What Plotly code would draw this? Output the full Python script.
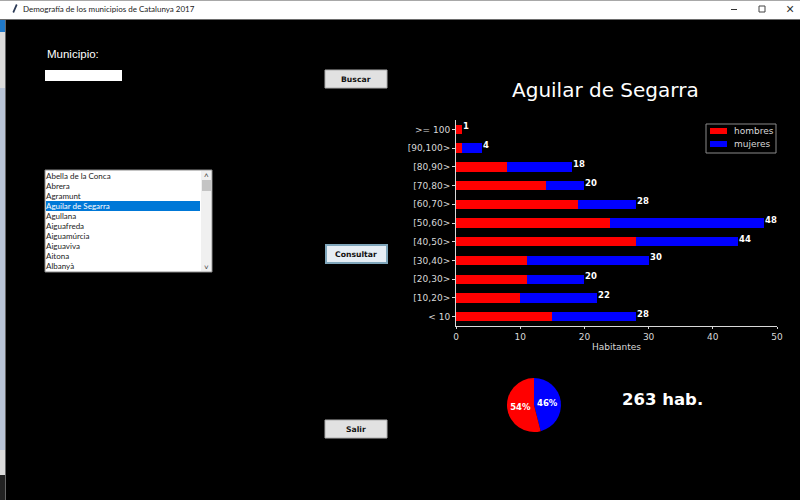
import plotly.graph_objects as go

# edades de abajo arriba, como en el eje del original
rangos = ['< 10', '[10,20>', '[20,30>', '[30,40>', '[40,50>', '[50,60>',
          '[60,70>', '[70,80>', '[80,90>', '[90,100>', '>= 100']
hombres = [15, 10, 11, 11, 28, 24, 19, 14, 8, 1, 1]
mujeres = [13, 12, 9, 19, 16, 24, 9, 6, 10, 3, 0]
totales = [28, 22, 20, 30, 44, 48, 28, 20, 18, 4, 1]

municipios = ['Abella de la Conca', 'Abrera', 'Agramunt', 'Aguilar de Segarra', 'Agullana',
              'Aiguafreda', 'Aiguamúrcia', 'Aiguaviva', 'Aitona', 'Albanyà']
seleccionado = 'Aguilar de Segarra'
botones = ['Buscar', 'Consultar', 'Salir']
pie_labels = ['mujeres', 'hombres']
pie_values = [121, 142]

W, H = 800, 500
CHART_FONT = 'DejaVu Sans'
UI_FONT = 'Liberation Sans'
LIST_FONT = 'Lato'


def rect(x0, y0, x1, y1, fill, line=None, width=1, layer='below'):
    # coordenadas en pixeles de la ventana, y hacia abajo
    return dict(type='rect', xref='paper', yref='paper', x0=x0 / W, x1=x1 / W,
                y0=1 - y0 / H, y1=1 - y1 / H, fillcolor=fill, layer=layer,
                line=dict(color=line if line else fill, width=width if line else 0))


def label(x, y, text, size, color='#ffffff', font=UI_FONT, anchor='left', bold=False):
    return dict(xref='paper', yref='paper', x=x / W, y=1 - y / H, text='<b>%s</b>' % text if bold else text,
                showarrow=False, xanchor=anchor, yanchor='middle',
                font=dict(family=font, size=size, color=color))


fig = go.Figure()
fig.add_trace(go.Bar(y=rangos, x=hombres, name='hombres', orientation='h', width=0.5,
                     marker=dict(color='#ff0000', line_width=0)))
fig.add_trace(go.Bar(y=rangos, x=mujeres, name='mujeres', orientation='h', width=0.5,
                     marker=dict(color='#0000ff', line_width=0)))
fig.add_trace(go.Pie(labels=pie_labels, values=pie_values, sort=False, direction='clockwise',
                     rotation=0, marker=dict(colors=['#0000ff', '#ff0000'], line_width=0),
                     texttemplate='<b>%{percent:.0%}</b>',
                     textposition='inside', insidetextorientation='horizontal',
                     textfont=dict(family=CHART_FONT, size=8.5, color='#ffffff'),
                     domain=dict(x=[507 / W, 561 / W], y=[1 - 432 / H, 1 - 378 / H])))

shapes = [
    rect(0, 0, W, 20, '#ffffff'),
    rect(0, 0, W, 1, '#a8a8a8'),
    rect(0, 19, W, 20, '#6e6e6e'),
    # trozo de escritorio que asoma a la izquierda
    rect(0, 20, 5, 32, '#1f78c8'),
    rect(0, 32, 5, 88, '#dcdcdc'),
    rect(0, 88, 5, 450, '#b9c4d6'),
    rect(0, 450, 5, 475, '#dcdcdc'),
    rect(0, 475, 5, 500, '#222222'),
    rect(5, 20, 6, 500, '#666666'),
    rect(45, 70, 122, 81, '#ffffff'),
    rect(325, 70, 387, 88, '#e1e1e1', '#adadad'),
    rect(326, 245, 387, 263, '#e6eef5', '#7fa6bb', 2),
    rect(325, 420, 387, 438, '#e1e1e1', '#adadad'),
    rect(45, 170, 212, 272, '#ffffff', '#8a8a8a'),
    rect(201, 171, 211, 271, '#f0f0f0'),
    rect(202, 180, 211, 191, '#c4c4c4'),
    rect(46, 201, 200, 211, '#0078d7'),
    # botones de la barra de titulo
    rect(759, 6, 765, 12, '#ffffff', '#444444'),
    rect(731, 9, 737, 10, '#333333'),
    # leyenda dibujada a mano, con las muestras anchas del original
    rect(706, 124, 776, 153, '#000000', '#8a8a8a', 1, 'above'),
    rect(710, 128, 727, 134, '#ff0000', None, 1, 'above'),
    rect(710, 141, 727, 147, '#0000ff', None, 1, 'above'),
    # pluma del icono de la ventana
    dict(type='path', xref='paper', yref='paper', fillcolor='#2b3a55', line_width=0,
         path='M %f %f L %f %f L %f %f L %f %f Z' % (16 / W, 1 - 4 / H, 17.5 / W, 1 - 5 / H,
                                                     14 / W, 1 - 13 / H, 12.5 / W, 1 - 12 / H)),
]
fig.update_layout(
    width=W, height=H, margin=dict(l=0, r=0, t=0, b=0, pad=0, autoexpand=False),
    paper_bgcolor='#000000', plot_bgcolor='#000000',
    barmode='stack', shapes=shapes, showlegend=False,
    font=dict(family=CHART_FONT, size=9, color='#d8d8d8'),
    xaxis=dict(domain=[456 / W, 777 / W], range=[0, 50], tick0=0, dtick=10, showgrid=False, zeroline=False,
               showline=True, linecolor='#d8d8d8', ticks='outside', ticklen=2, tickcolor='#d8d8d8',
               title=dict(text='Habitantes', standoff=2, font=dict(size=9, color='#d8d8d8'))),
    yaxis=dict(domain=[1 - 326 / H, 1 - 120 / H], range=[-0.5, 10.5], showgrid=False, zeroline=False,
               showline=True, linecolor='#d8d8d8', ticks='outside', ticklen=3, tickcolor='#d8d8d8',
               categoryorder='array', categoryarray=rangos),
)

annotations = [
    label(605, 90, 'Aguilar de Segarra', 20, '#ffffff', CHART_FONT, 'center'),
    label(662, 399, '263 hab.', 16.5, '#ffffff', CHART_FONT, 'center', True),
    label(21, 9, 'Demografía de los municipios de Catalunya 2017', 8, '#222222', LIST_FONT),
    label(45, 54, 'Municipio:', 11.5),
    label(356, 79, botones[0], 7.7, '#111111', CHART_FONT, 'center', True),
    label(356, 254, botones[1], 7.7, '#111111', CHART_FONT, 'center', True),
    label(356, 429, botones[2], 7.7, '#111111', CHART_FONT, 'center', True),
    label(790, 9, '×', 14, '#333333', UI_FONT, 'center'),
    label(732, 131, 'hombres', 9, '#d8d8d8', CHART_FONT),
    label(732, 144, 'mujeres', 9, '#d8d8d8', CHART_FONT),
]
for i, nombre in enumerate(municipios):
    color = '#ffffff' if nombre == seleccionado else '#222222'
    annotations.append(label(44, 176 + i * 10, nombre, 8, color, LIST_FONT))
# flechas de la barra de scroll
annotations.append(label(206, 175, '˄', 8, '#444444', UI_FONT, 'center'))
annotations.append(label(206, 267, '˅', 8, '#444444', UI_FONT, 'center'))
# totales al final de cada barra
for rango, total in zip(rangos, totales):
    annotations.append(dict(xref='x', yref='y', x=total, y=rango, text='<b>%d</b>' % total, showarrow=False,
                            xanchor='left', yanchor='middle', xshift=-1, yshift=3,
                            font=dict(family=CHART_FONT, size=8.5, color='#ffffff')))
fig.update_layout(annotations=annotations)

fig.write_html("out.html", config=dict(displayModeBar=False),
               post_script="document.body.style.margin='0';document.body.style.background='#000';")
